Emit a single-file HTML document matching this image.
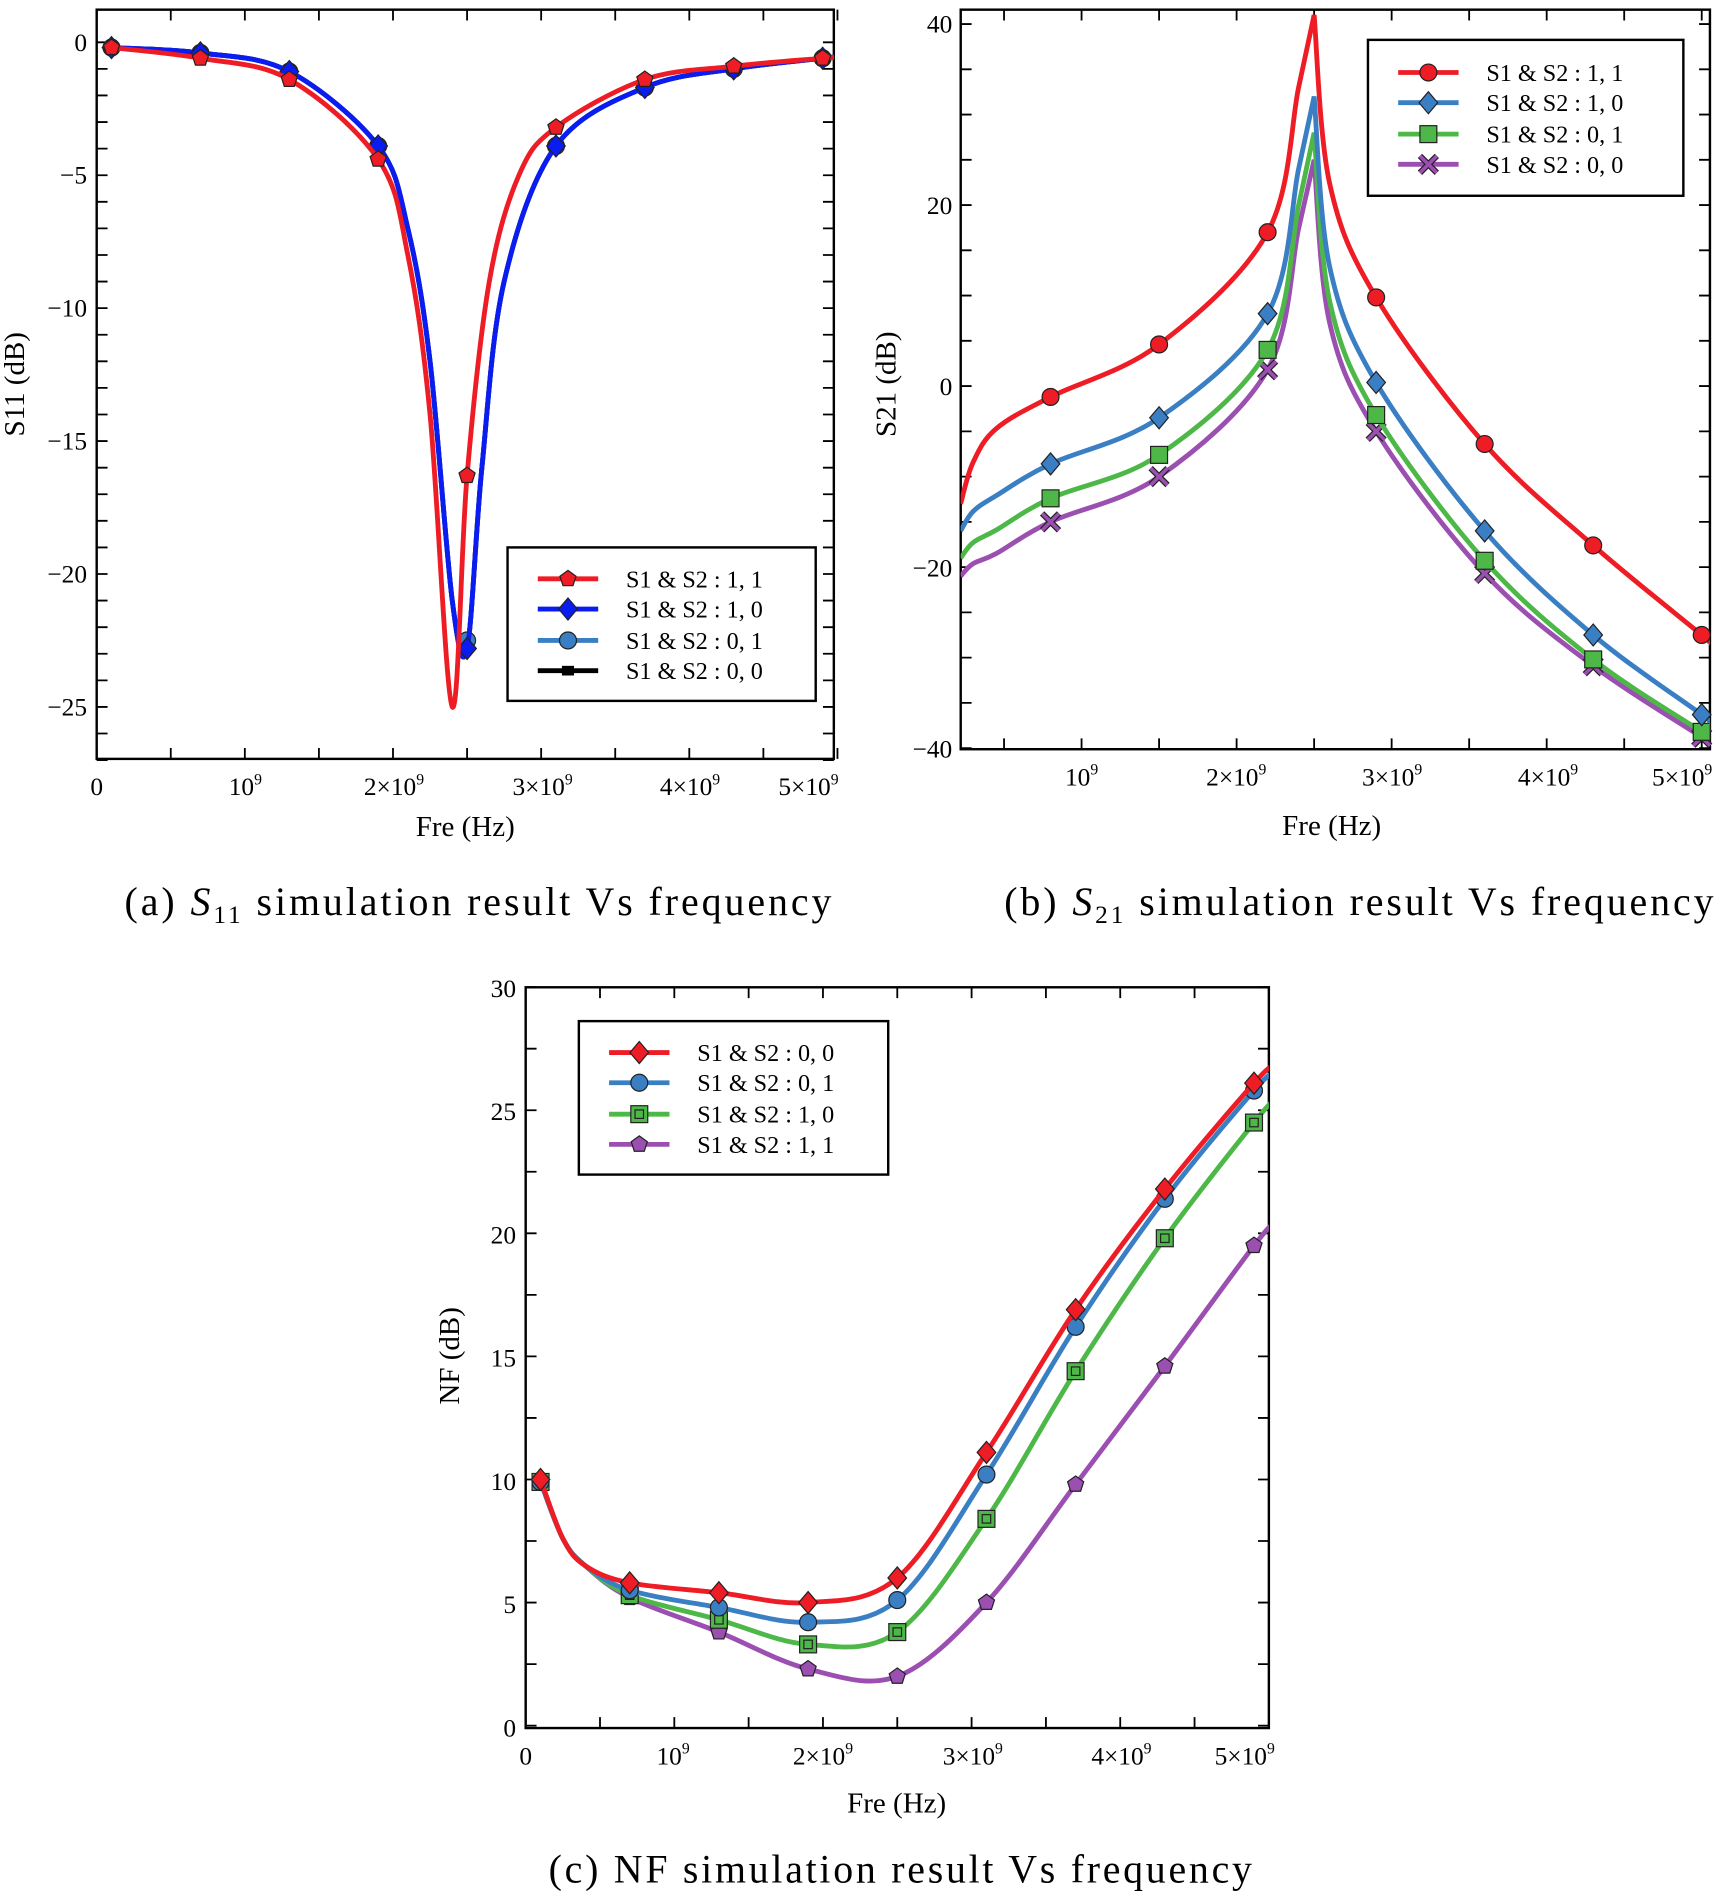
<!DOCTYPE html>
<html><head><meta charset="utf-8"><style>
html,body{margin:0;padding:0;background:#fff}
svg{display:block}
text{font-family:"Liberation Serif",serif;fill:#000}
</style></head><body>
<svg id="s" width="1716" height="1893" viewBox="0 0 1420 1566.5" xmlns="http://www.w3.org/2000/svg">
<rect width="1420" height="1567" fill="#fff"/>
<g id="g"></g>
<!-- Panel a texts -->
<g font-size="21" text-anchor="end">
<text x="72" y="42">0</text><text x="72" y="152">−5</text><text x="72" y="262">−10</text>
<text x="72" y="372">−15</text><text x="72" y="482">−20</text><text x="72" y="592">−25</text>
</g>
<g font-size="21" text-anchor="middle">
<text x="80" y="658">0</text><text x="203" y="658">10<tspan font-size="13" dy="-9">9</tspan></text>
<text x="326" y="658">2×10<tspan font-size="13" dy="-9">9</tspan></text>
<text x="449" y="658">3×10<tspan font-size="13" dy="-9">9</tspan></text>
<text x="571" y="658">4×10<tspan font-size="13" dy="-9">9</tspan></text>
<text x="669" y="658">5×10<tspan font-size="13" dy="-9">9</tspan></text>
</g>
<text x="385" y="692" font-size="24" text-anchor="middle">Fre (Hz)</text>
<text transform="translate(20,318) rotate(-90)" font-size="24" text-anchor="middle">S11 (dB)</text>
<text x="103" y="757" font-size="33" textLength="585" lengthAdjust="spacing">(a) <tspan font-style="italic">S</tspan><tspan font-size="21" dy="7">11</tspan><tspan dy="-7"> simulation result Vs frequency</tspan></text>
<g font-size="20"><text x="518" y="486">S1 &amp; S2 : 1, 1</text><text x="518" y="511">S1 &amp; S2 : 1, 0</text><text x="518" y="537">S1 &amp; S2 : 0, 1</text><text x="518" y="562">S1 &amp; S2 : 0, 0</text></g>
<!-- Panel b texts -->
<g font-size="21" text-anchor="end">
<text x="788" y="27">40</text><text x="788" y="177">20</text><text x="788" y="327">0</text>
<text x="788" y="477">−20</text><text x="788" y="627">−40</text>
</g>
<g font-size="21" text-anchor="middle">
<text x="895" y="650">10<tspan font-size="13" dy="-9">9</tspan></text>
<text x="1023" y="650">2×10<tspan font-size="13" dy="-9">9</tspan></text>
<text x="1152" y="650">3×10<tspan font-size="13" dy="-9">9</tspan></text>
<text x="1281" y="650">4×10<tspan font-size="13" dy="-9">9</tspan></text>
<text x="1392" y="650">5×10<tspan font-size="13" dy="-9">9</tspan></text>
</g>
<text x="1102" y="691" font-size="24" text-anchor="middle">Fre (Hz)</text>
<text transform="translate(741,318) rotate(-90)" font-size="24" text-anchor="middle">S21 (dB)</text>
<text x="831" y="757" font-size="33" textLength="587" lengthAdjust="spacing">(b) <tspan font-style="italic">S</tspan><tspan font-size="21" dy="7">21</tspan><tspan dy="-7"> simulation result Vs frequency</tspan></text>
<g font-size="20"><text x="1230" y="67">S1 &amp; S2 : 1, 1</text><text x="1230" y="92">S1 &amp; S2 : 1, 0</text><text x="1230" y="118">S1 &amp; S2 : 0, 1</text><text x="1230" y="143">S1 &amp; S2 : 0, 0</text></g>
<!-- Panel c texts -->
<g font-size="21" text-anchor="end">
<text x="427" y="825">30</text><text x="427" y="927">25</text><text x="427" y="1029">20</text>
<text x="427" y="1131">15</text><text x="427" y="1233">10</text><text x="427" y="1335">5</text><text x="427" y="1437">0</text>
</g>
<g font-size="21" text-anchor="middle">
<text x="435" y="1460">0</text><text x="557" y="1460">10<tspan font-size="13" dy="-9">9</tspan></text>
<text x="681" y="1460">2×10<tspan font-size="13" dy="-9">9</tspan></text>
<text x="805" y="1460">3×10<tspan font-size="13" dy="-9">9</tspan></text>
<text x="928" y="1460">4×10<tspan font-size="13" dy="-9">9</tspan></text>
<text x="1030" y="1460">5×10<tspan font-size="13" dy="-9">9</tspan></text>
</g>
<text x="742" y="1500" font-size="24" text-anchor="middle">Fre (Hz)</text>
<text transform="translate(380,1122) rotate(-90)" font-size="24" text-anchor="middle">NF (dB)</text>
<text x="454" y="1558" font-size="33" textLength="582" lengthAdjust="spacing">(c) NF simulation result Vs frequency</text>
<g font-size="20"><text x="577" y="878">S1 &amp; S2 : 0, 0</text><text x="577" y="903">S1 &amp; S2 : 0, 1</text><text x="577" y="929">S1 &amp; S2 : 1, 0</text><text x="577" y="954">S1 &amp; S2 : 1, 1</text></g>
</svg>
<script>
var NS="http://www.w3.org/2000/svg",G=document.getElementById("g");
function el(t,a){var e=document.createElementNS(NS,t);for(var k in a)e.setAttribute(k,a[k]);G.appendChild(e);return e;}
function smooth(p){var d="M"+p[0][0]+","+p[0][1];for(var i=0;i<p.length-1;i++){var p0=p[i-1]||p[i],p1=p[i],p2=p[i+1],p3=p[i+2]||p2;var c1=[p1[0]+(p2[0]-p0[0])/6,p1[1]+(p2[1]-p0[1])/6],c2=[p2[0]-(p3[0]-p1[0])/6,p2[1]-(p3[1]-p1[1])/6];d+=" C"+c1+" "+c2+" "+p2;}return d;}
function marker(type,x,y,c,s){s=s||7;var st={fill:c,stroke:"#222","stroke-width":1};
 if(type=="o")el("circle",Object.assign({cx:x,cy:y,r:s},st));
 else if(type=="d")el("polygon",Object.assign({points:[x,y-s*1.3,x+s*1.1,y,x,y+s*1.3,x-s*1.1,y].join(" ")},st));
 else if(type=="s"){el("rect",Object.assign({x:x-s,y:y-s,width:2*s,height:2*s},st));}
 else if(type=="sq"){el("rect",Object.assign({x:x-s,y:y-s,width:2*s,height:2*s},st));el("rect",{x:x-s/2,y:y-s/2,width:s,height:s,fill:"none",stroke:"#222","stroke-width":1});}
 else if(type=="p"){var pts=[];for(var i=0;i<5;i++){var a=-Math.PI/2+i*2*Math.PI/5;pts.push(x+s*Math.cos(a),y+s*Math.sin(a));}el("polygon",Object.assign({points:pts.join(" ")},st));}
 else if(type=="x"){el("path",{d:"M"+(x-s)+","+(y-s)+"L"+(x+s)+","+(y+s)+"M"+(x-s)+","+(y+s)+"L"+(x+s)+","+(y-s),stroke:"#222","stroke-width":5});el("path",{d:"M"+(x-s)+","+(y-s)+"L"+(x+s)+","+(y+s)+"M"+(x-s)+","+(y+s)+"L"+(x+s)+","+(y-s),stroke:c,"stroke-width":3});}
 else if(type=="sm"){el("rect",{x:x-5,y:y-4,width:10,height:8,fill:"#000"});}
}
function axes(x0,y0,x1,y1,xt,yt){
 el("rect",{x:x0,y:y0,width:x1-x0,height:y1-y0,fill:"none",stroke:"#000","stroke-width":2});
 var d="";xt.forEach(function(x){d+="M"+x+","+y1+"v-9M"+x+","+y0+"v9";});
 yt.forEach(function(y){d+="M"+x0+","+y+"h9M"+x1+","+y+"h-9";});
 el("path",{d:d,stroke:"#000","stroke-width":1.5,fill:"none"});}
function series(pts,X,Y,color,mk,mpts,clip){var p=pts.map(function(q){return[X(q[0]),Y(q[1])]});
 el("path",{d:smooth(p),stroke:color,"stroke-width":4,fill:"none","clip-path":clip});
 mpts.forEach(function(q){marker(mk,X(q[0]),Y(q[1]),color);});}
function legend(x0,y0,x1,y1,items){el("rect",{x:x0,y:y0,width:x1-x0,height:y1-y0,fill:"#fff",stroke:"#000","stroke-width":2});
 items.forEach(function(it){el("line",{x1:x0+25,x2:x0+75,y1:it[2],y2:it[2],stroke:it[0],"stroke-width":4});marker(it[1],x0+50,it[2],it[0]);});}
var defs=document.createElementNS(NS,"defs");document.getElementById("s").insertBefore(defs,G);
defs.innerHTML='<clipPath id="cb"><rect x="795" y="8" width="620" height="612"/></clipPath><clipPath id="ca"><rect x="80" y="8" width="610" height="620"/></clipPath><clipPath id="cc"><rect x="435" y="817" width="615" height="613"/></clipPath>';

// Panel a
var Xa=function(f){return 80+f*122.6},Ya=function(v){return 35-v*22};
var xt=[],yt=[];for(var f=0;f<=5;f+=0.5)xt.push(Xa(f));for(var v=0;v>=-27;v-=1)yt.push(Ya(v));
axes(80,8,690,628,xt,yt);
var blue=[[0.1,-0.2],[0.7,-0.4],[1.3,-1.1],[1.9,-3.9],[2.1,-7],[2.25,-12],[2.4,-21],[2.5,-22.8],[2.6,-16],[2.75,-9],[3.1,-3.9],[3.7,-1.7],[4.3,-1.0],[4.9,-0.6],[5.0,-0.55]];
var mb=[[0.1,-0.2],[0.7,-0.4],[1.3,-1.1],[1.9,-3.9],[2.5,-22.5],[3.1,-3.9],[3.7,-1.7],[4.3,-1.0],[4.9,-0.6]];
series(blue,Xa,Ya,"#000","sm",mb,"url(#ca)");
series(blue,Xa,Ya,"#3a7fc4","o",mb,"url(#ca)");
series(blue,Xa,Ya,"#0a1cf0","d",[[0.1,-0.2],[0.7,-0.4],[1.3,-1.1],[1.9,-3.9],[2.5,-22.8],[3.1,-3.9],[3.7,-1.7],[4.3,-1.0],[4.9,-0.6]],"url(#ca)");
var red=[[0.1,-0.2],[0.7,-0.6],[1.3,-1.4],[1.9,-4.4],[2.1,-8],[2.25,-14],[2.4,-25],[2.5,-16.3],[2.65,-9],[2.85,-5],[3.1,-3.2],[3.7,-1.4],[4.3,-0.9],[4.9,-0.6],[5.0,-0.55]];
series(red,Xa,Ya,"#ee1c25","p",[[0.1,-0.2],[0.7,-0.6],[1.3,-1.4],[1.9,-4.4],[2.5,-16.3],[3.1,-3.2],[3.7,-1.4],[4.3,-0.9],[4.9,-0.6]],"url(#ca)");
legend(420,453,675,580,[["#ee1c25","p",479],["#0a1cf0","d",504],["#3a7fc4","o",530],["#000","sm",555]]);

// Panel b
var Xb=function(f){return 766.7+f*128.3},Yb=function(v){return 319.5-v*7.49};
xt=[];for(f=0.5;f<=5;f+=0.5)xt.push(Xb(f));yt=[];for(v=40;v>=-40;v-=5)yt.push(Yb(v));
axes(795,8,1415,620,xt,yt);
function sb(start,vals,peak,col,mk){var m=[0.8,1.5,2.2,2.9,3.6,4.3,5.0];
 var lp=[[0.22,start],[0.3,0],[0.45,vals[0]-3.5],[0.8,vals[0]],[1.5,vals[1]],[2.2,vals[2]],[2.4,(vals[2]+peak)/2+4],[2.5,peak]];
 var rp=[[2.5,peak],[2.6,(peak+vals[3])/2-3],[2.9,vals[3]],[3.6,vals[4]],[4.3,vals[5]],[5.0,vals[6]],[5.05,vals[6]-0.8]];
 lp[1]=[0.3,start+0.55*(vals[0]-3.5-start)];
 var X=Xb,Y=Yb;
 el("path",{d:smooth(lp.map(function(q){return[X(q[0]),Y(q[1])]}))+" "+smooth(rp.map(function(q){return[X(q[0]),Y(q[1])]})).replace("M","L"),stroke:col,"stroke-width":4,fill:"none","clip-path":"url(#cb)"});
 m.forEach(function(f,i){marker(mk,X(f),Y(vals[i]),col);});}
sb(-21,[-15,-10,1.8,-5,-20.7,-30.9,-38.8],25,"#9b4fb0","x");
sb(-19,[-12.4,-7.6,4,-3.2,-19.3,-30.2,-38.2],28,"#4db848","s");
sb(-16,[-8.6,-3.5,8,0.4,-16,-27.5,-36.3],32,"#3a7fc4","d");
sb(-13,[-1.2,4.6,17,9.8,-6.4,-17.6,-27.5],41,"#ee1c25","o");
legend(1132,33,1393,162,[["#ee1c25","o",60],["#3a7fc4","d",85],["#4db848","s",111],["#9b4fb0","x",136]]);

// Panel c
var Xc=function(f){return 435+f*123},Yc=function(v){return 1428-v*20.37};
xt=[];for(f=0.5;f<=5;f+=0.5)xt.push(Xc(f));yt=[];for(v=0;v<=30;v+=2.5)yt.push(Yc(v));
axes(435,817,1050,1430,xt,yt);
var M=[0.1,0.7,1.3,1.9,2.5,3.1,3.7,4.3,4.9];
function sc(vals,extra,col,mk){var pts=M.map(function(f,i){return[f,vals[i]]}).concat(extra);
 pts.sort(function(a,b){return a[0]-b[0]});pts.splice(1,0,[0.25,7.6]);pts.splice(2,0,[0.4,6.5]);
 series(pts,Xc,Yc,col,mk,M.map(function(f,i){return[f,vals[i]]}),"url(#cc)");}
sc([10,5.2,3.8,2.3,2.0,5.0,9.8,14.6,19.5],[[5.05,20.5]],"#9b4fb0","p");
sc([9.9,5.3,4.3,3.3,3.8,8.4,14.4,19.8,24.5],[[5.05,25.5]],"#4db848","sq");
sc([9.9,5.5,4.8,4.2,5.1,10.2,16.2,21.4,25.8],[[5.05,26.6]],"#3a7fc4","o");
sc([10,5.8,5.4,5.0,6.0,11.1,16.9,21.8,26.1],[[5.05,26.9]],"#ee1c25","d");
legend(479,845,735,972,[["#ee1c25","d",871],["#3a7fc4","o",896],["#4db848","sq",922],["#9b4fb0","p",947]]);
</script>
</body></html>
